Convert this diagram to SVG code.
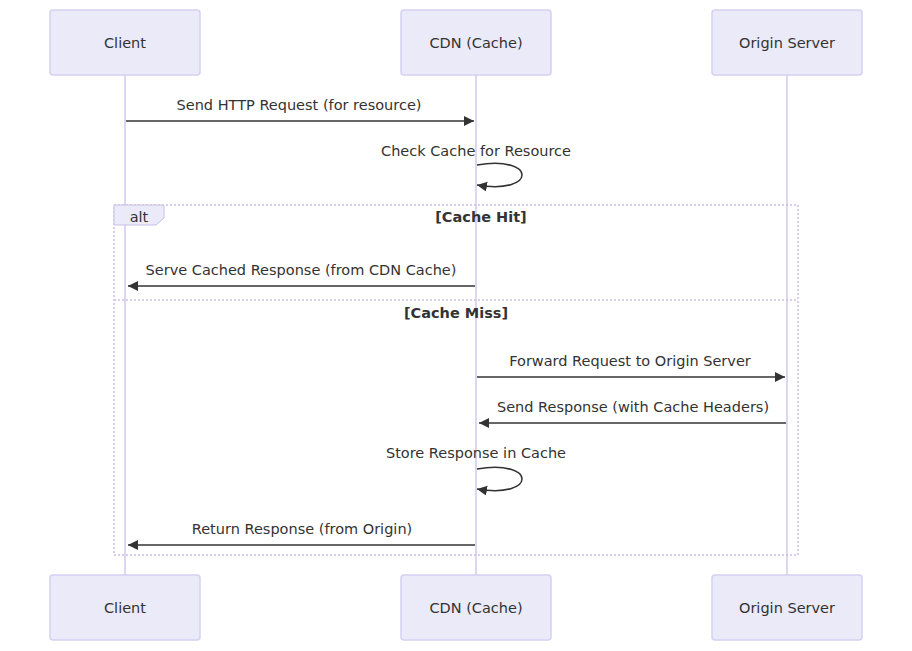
<svg xmlns="http://www.w3.org/2000/svg" width="912" height="651" viewBox="0 0 912 651">
<style>
.actor{fill:#eaeaf9;stroke:#d5d0f2;stroke-width:1.5}
.life{stroke:#d0c8ee;stroke-width:1.5}
text{font-family:"DejaVu Sans",sans-serif;font-size:14.5px;fill:#333;text-anchor:middle}
.msg{stroke:#333;stroke-width:1.5;fill:none}
.loop{stroke:#c9bfe6;stroke-width:1.5;fill:none;stroke-dasharray:2 2}
</style>
<defs><marker id="ah" markerWidth="12" markerHeight="12" refX="10" refY="5" orient="auto" markerUnits="userSpaceOnUse"><path d="M0,0 L10,5 L0,10z" fill="#333"/></marker></defs>
<rect width="912" height="651" fill="#fff"/>
<g id="lifelines">
<line class="life" x1="125" y1="75" x2="125" y2="575"/>
<line class="life" x1="476" y1="75" x2="476" y2="575"/>
<line class="life" x1="787" y1="75" x2="787" y2="575"/>
</g>
<g id="client"><rect class="actor" x="50" y="10" width="150" height="65" rx="3"/><text x="125" y="48">Client</text></g>
<g id="cdn"><rect class="actor" x="401" y="10" width="150" height="65" rx="3"/><text x="476" y="48">CDN (Cache)</text></g>
<g id="origin"><rect class="actor" x="712" y="10" width="150" height="65" rx="3"/><text x="787" y="48">Origin Server</text></g>
<g id="client-bottom"><rect class="actor" x="50" y="575" width="150" height="65" rx="3"/><text x="125" y="613">Client</text></g>
<g id="cdn-bottom"><rect class="actor" x="401" y="575" width="150" height="65" rx="3"/><text x="476" y="613">CDN (Cache)</text></g>
<g id="origin-bottom"><rect class="actor" x="712" y="575" width="150" height="65" rx="3"/><text x="787" y="613">Origin Server</text></g>
<g id="alt">
<rect class="loop" x="114" y="205" width="684" height="350"/>
<path d="M114,205 H164 V218 L156,225 H114 Z" fill="#eaeaf9" stroke="#c9bfe6" stroke-width="1"/>
<text x="139" y="222">alt</text>
<text x="481" y="222" font-weight="bold">[Cache Hit]</text>
<line class="loop" x1="114" y1="300" x2="798" y2="300"/>
<text x="456" y="318" font-weight="bold">[Cache Miss]</text>
</g>
<g id="connectors">
<line class="msg" x1="126" y1="121" x2="474" y2="121" marker-end="url(#ah)"/>
<text x="299" y="110">Send HTTP Request (for resource)</text>
<path class="msg" d="M477,165 C537,155 537,195 477,185" marker-end="url(#ah)"/>
<text x="476" y="156">Check Cache for Resource</text>
<line class="msg" x1="475" y1="286" x2="128" y2="286" marker-end="url(#ah)"/>
<text x="301" y="275">Serve Cached Response (from CDN Cache)</text>
<line class="msg" x1="477" y1="377" x2="785" y2="377" marker-end="url(#ah)"/>
<text x="630" y="366">Forward Request to Origin Server</text>
<line class="msg" x1="786" y1="423" x2="479" y2="423" marker-end="url(#ah)"/>
<text x="633" y="412">Send Response (with Cache Headers)</text>
<path class="msg" d="M477,469 C537,459 537,499 477,489" marker-end="url(#ah)"/>
<text x="476" y="458">Store Response in Cache</text>
<line class="msg" x1="475" y1="545" x2="128" y2="545" marker-end="url(#ah)"/>
<text x="302" y="534">Return Response (from Origin)</text>
</g>
</svg>
